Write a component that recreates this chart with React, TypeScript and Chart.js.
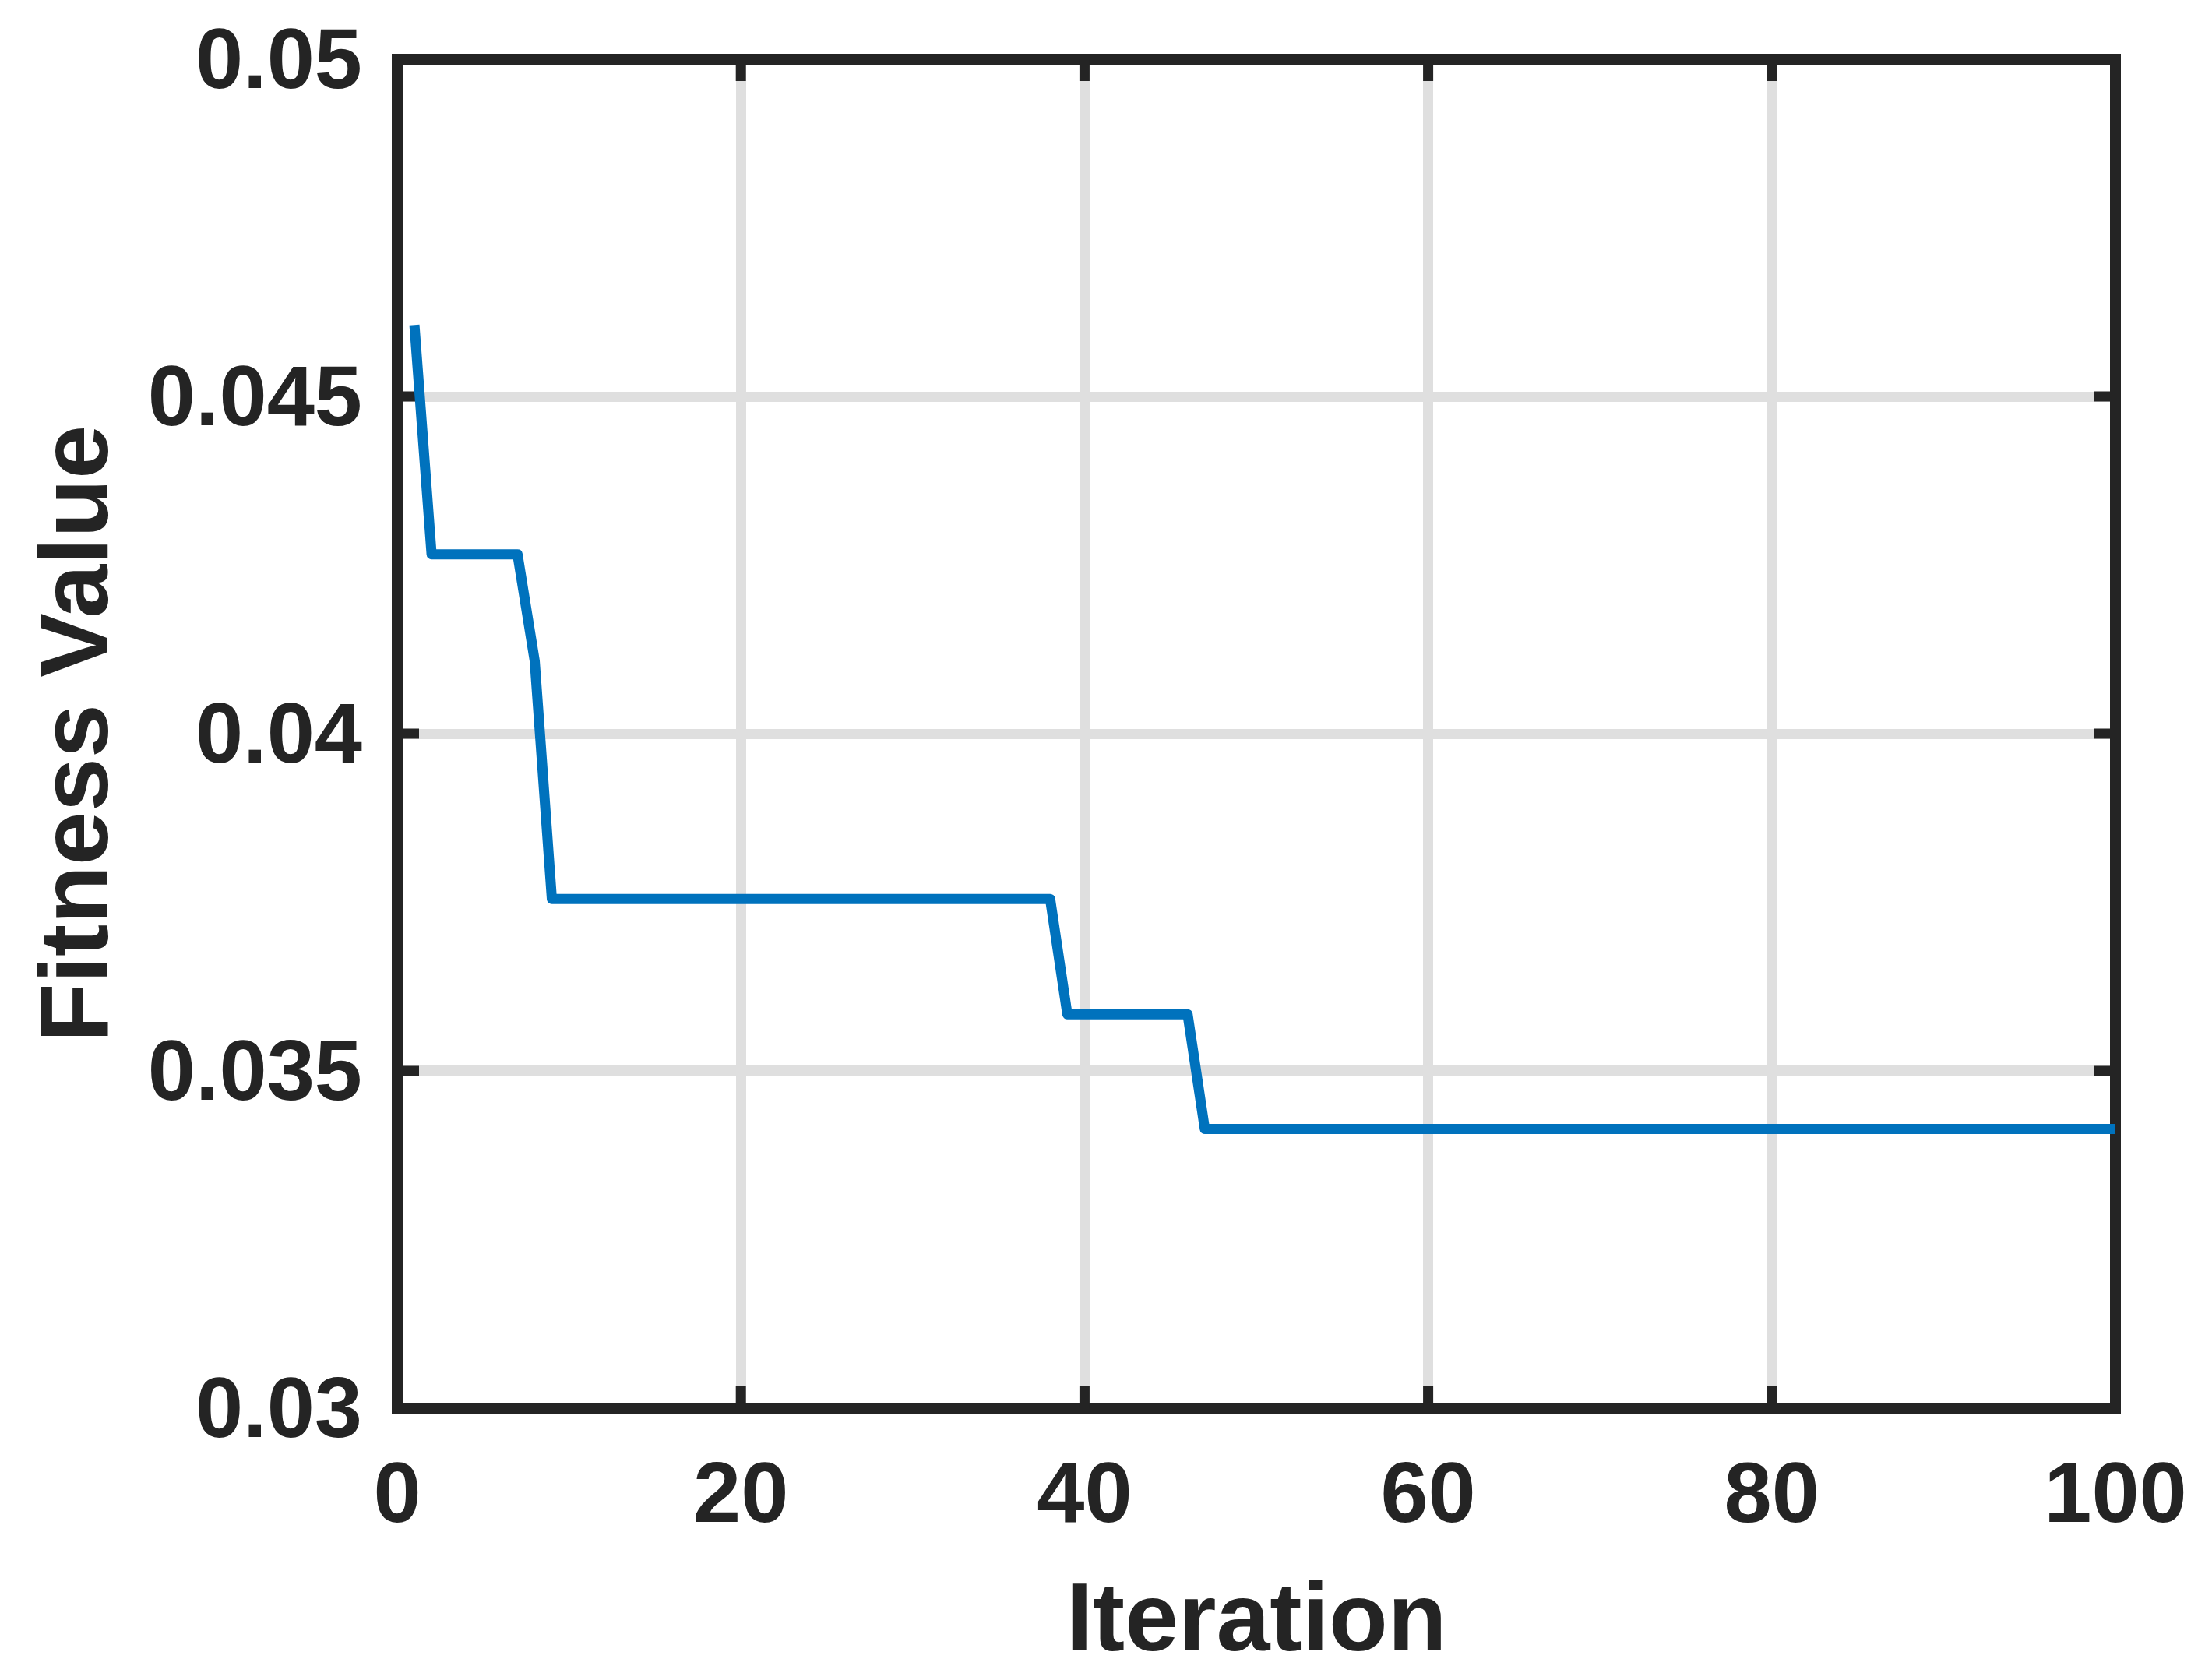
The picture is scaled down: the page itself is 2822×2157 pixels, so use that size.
import React, { useEffect, useRef } from 'react';
import { Chart, registerables } from 'chart.js';

Chart.register(...registerables);

// ---- data ----
const iterations = [1, 2, 7, 8, 9, 38, 39, 46, 47, 100];
const fitnessValues = [0.04606, 0.04266, 0.04266, 0.04108, 0.03755, 0.03755, 0.03584, 0.03584, 0.03414, 0.03414];
const xTickValues = [0, 20, 40, 60, 80, 100];
const xTickLabels = ['0', '20', '40', '60', '80', '100'];
const yTickValues = [0.03, 0.035, 0.04, 0.045, 0.05];
const yTickLabels = ['0.03', '0.035', '0.04', '0.045', '0.05'];
const xTitle = 'Iteration';
const yTitle = 'Fitness Value';

const W = 2822;
const H = 2157;
const INK = '#242424';
const FONT = "'Liberation Sans', Arial, Helvetica, sans-serif";

const framePlugin = {
  id: 'matlabFrame',
  beforeDatasetsDraw(chart: any) {
    const { ctx, chartArea: a, scales } = chart;
    ctx.save();
    ctx.strokeStyle = INK;
    ctx.lineWidth = 14;
    ctx.lineJoin = 'miter';
    ctx.strokeRect(a.left, a.top, a.right - a.left, a.bottom - a.top);
    const len = 28;
    ctx.lineWidth = 13;
    ctx.lineCap = 'butt';
    ctx.beginPath();
    for (const v of xTickValues) {
      const px = scales.x.getPixelForValue(v);
      ctx.moveTo(px, a.bottom);
      ctx.lineTo(px, a.bottom - len);
      ctx.moveTo(px, a.top);
      ctx.lineTo(px, a.top + len);
    }
    for (const v of yTickValues) {
      const py = scales.y.getPixelForValue(v);
      ctx.moveTo(a.left, py);
      ctx.lineTo(a.left + len, py);
      ctx.moveTo(a.right, py);
      ctx.lineTo(a.right - len, py);
    }
    ctx.stroke();
    ctx.restore();
  },
};

const zeroPad = (s: any) => {
  s.paddingLeft = 0;
  s.paddingRight = 0;
  s.paddingTop = 0;
  s.paddingBottom = 0;
};

export default function App() {
  const ref = useRef<HTMLCanvasElement | null>(null);

  useEffect(() => {
    if (!ref.current) return;
    const points = iterations.map((x, i) => ({ x, y: fitnessValues[i] }));
    const chart = new Chart(ref.current, {
      type: 'line',
      data: {
        datasets: [
          {
            data: points,
            borderColor: '#0072BD',
            borderWidth: 13,
            pointRadius: 0,
            tension: 0,
            fill: false,
            borderJoinStyle: 'round',
            borderCapStyle: 'butt',
            clip: 10,
          } as any,
        ],
      },
      options: {
        responsive: false,
        animation: false,
        devicePixelRatio: 1,
        elements: { line: { borderWidth: 13 } },
        layout: { padding: { left: 0, right: 106, top: 76, bottom: 0 } },
        plugins: {
          legend: { display: false },
          tooltip: { enabled: false },
          title: { display: false },
        },
        scales: {
          x: {
            type: 'linear',
            min: 0,
            max: 100,
            afterFit: (s: any) => {
              s.height = H - 1808;
              zeroPad(s);
            },
            afterBuildTicks: (s: any) => {
              s.ticks = xTickValues.map((v) => ({ value: v }));
            },
            grid: { color: '#dfdfdf', lineWidth: 13, drawTicks: false },
            border: { display: false },
            ticks: {
              color: INK,
              padding: 50,
              maxRotation: 0,
              autoSkip: false,
              font: { family: FONT, size: 110, weight: 'bold', lineHeight: 1.2 },
              callback: (_v: any, i: number) => xTickLabels[i],
            },
            title: {
              display: true,
              text: xTitle,
              color: INK,
              padding: { top: 0, bottom: 10 },
              font: { family: FONT, size: 124, weight: 'bold', lineHeight: 1.0 },
            },
          },
          y: {
            type: 'linear',
            min: 0.03,
            max: 0.05,
            afterFit: (s: any) => {
              s.width = 510;
              zeroPad(s);
            },
            afterBuildTicks: (s: any) => {
              s.ticks = yTickValues.map((v) => ({ value: v }));
            },
            grid: { color: '#dfdfdf', lineWidth: 13, drawTicks: false },
            border: { display: false },
            ticks: {
              color: INK,
              padding: 45,
              labelOffset: 7,
              autoSkip: false,
              font: { family: FONT, size: 110, weight: 'bold', lineHeight: 1.2 },
              callback: (_v: any, i: number) => yTickLabels[i],
            },
            title: {
              display: true,
              text: yTitle,
              color: INK,
              padding: { top: 42, bottom: 0 },
              font: { family: FONT, size: 124, weight: 'bold', lineHeight: 1.0 },
            },
          },
        },
      },
      plugins: [framePlugin],
    } as any);
    return () => chart.destroy();
  }, []);

  return (
    <div style={{ position: 'absolute', left: 0, top: 0, width: W, height: H, background: '#ffffff' }}>
      <canvas ref={ref} width={W} height={H} style={{ display: 'block', width: W, height: H }} />
    </div>
  );
}
